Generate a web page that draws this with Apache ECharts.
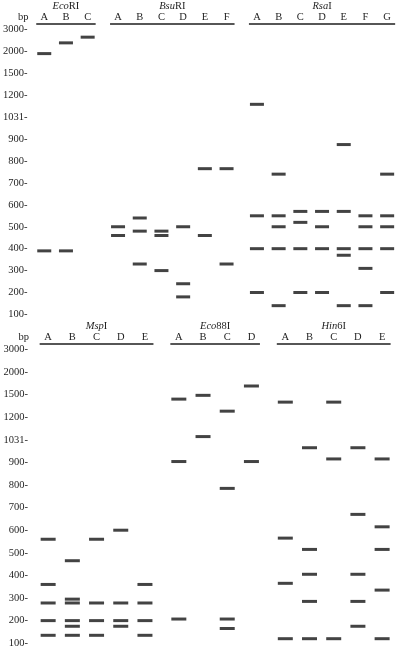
<!DOCTYPE html>
<html>
<head>
<meta charset="utf-8">
<script src="https://cdn.jsdelivr.net/npm/echarts@6/dist/echarts.min.js"></script>
<style>
html, body { margin: 0; padding: 0; background: #fff; }
#chart { width: 398px; height: 650px; }
</style>
</head>
<body>
<div id="chart"></div>
<script>
// size ladder (bp), evenly spaced on the gel
const ladder = [3000, 2000, 1500, 1200, 1031, 900, 800, 700, 600, 500, 400, 300, 200, 100];
const laneLetters = ['A', 'B', 'C', 'D', 'E', 'F', 'G'];

// top panel, band sizes per lane (bp)
const ecoRI = [[1950, 390], [2390, 390], [2650]];
const bsuRI = [[500, 460], [540, 480, 330], [480, 460, 300], [500, 240, 180], [765, 460], [765, 330]];
const rsaI = [[1130, 550, 400, 200], [740, 550, 500, 400, 140], [570, 520, 400, 200], [570, 500, 400, 200],
    [875, 570, 400, 370, 140], [550, 500, 400, 310, 140], [740, 550, 500, 400, 200]];
const topTitles = [['Eco', 'RI'], ['Bsu', 'RI'], ['Rsa', 'I']];

// bottom panel
const mspI = [[560, 360, 278, 200, 135], [465, 295, 278, 200, 175, 135], [560, 278, 200, 135],
    [600, 278, 200, 175], [360, 278, 200, 135]];
const eco88I = [[1440, 905, 207], [1490, 1055], [1280, 785, 207, 165], [1690, 905]];
const hin6I = [[1400, 565, 365, 120], [985, 515, 405, 285, 120], [1400, 920, 120],
    [985, 670, 405, 285, 175], [920, 615, 515, 335, 120]];
const bottomTitles = [['Msp', 'I'], ['Eco', '88I'], ['Hin', '6I']];

const GROUP_GAP = 1.4;
const FONT = '"Liberation Serif", "DejaVu Serif", serif';
const INK = '#1e1e1e';
const BAND = '#141414';

// bp -> position on the ladder (0 = 3000, 13 = 100)
function ladderPos(bp) {
    for (let i = 0; i < ladder.length - 1; i++) {
        if (bp <= ladder[i] && bp >= ladder[i + 1]) {
            return i + (ladder[i] - bp) / (ladder[i] - ladder[i + 1]);
        }
    }
    return bp > ladder[0] ? 0 : ladder.length - 1;
}

function buildPanel(groups) {
    let x = 0;
    const bands = [], heads = [];
    groups.forEach(lanes => {
        heads.push([x, x + lanes.length - 1, lanes.length]);
        lanes.forEach((sizes, i) => {
            sizes.forEach(bp => bands.push([x + i, ladderPos(bp)]));
        });
        x += lanes.length - 1 + GROUP_GAP;
    });
    return { bands, heads };
}

function headerRenderer(titles, bandW, xMin) {
    return function (params, api) {
        const x0 = api.value(0), x1 = api.value(1), n = api.value(2);
        const p0 = api.coord([x0, 0]), p1 = api.coord([x1, 0]);
        const y = p0[1];
        const txt = (text, px, py, align, rich) => ({
            type: 'text', x: px, y: py,
            style: { text: text, rich: rich, fill: INK, fontFamily: FONT, fontSize: 10.5,
                align: align || 'center', verticalAlign: 'middle' }
        });
        const children = [{
            type: 'line',
            shape: { x1: p0[0] - bandW / 2 - 1, y1: y - 5.5, x2: p1[0] + bandW / 2 + 1, y2: y - 5.5 },
            style: { stroke: INK, lineWidth: 1.5 }
        }];
        for (let i = 0; i < n; i++) {
            const p = api.coord([x0 + i, 0]);
            children.push(txt(laneLetters[i], p[0], y - 12));
        }
        const t = titles[params.dataIndex];
        children.push(txt('{i|' + t[0] + '}' + t[1], (p0[0] + p1[0]) / 2, y - 23, 'center', {
            i: { fontStyle: 'italic', fontFamily: FONT, fontSize: 10.5, fill: INK }
        }));
        if (params.dataIndex === 0) {
            const g = api.coord([xMin, 0]);
            children.push(txt('bp', g[0] - 1, y - 12, 'right'));
        }
        return { type: 'group', children: children };
    };
}

const topPanel = buildPanel([ecoRI, bsuRI, rsaI]);
const bottomPanel = buildPanel([mspI, eco88I, hin6I]);

const ladderTicks = ladder.map((_, i) => i);
function yAxisFor(gridIndex) {
    return {
        type: 'value', gridIndex: gridIndex, inverse: true, min: -1.3, max: 13.3,
        axisLine: { show: false }, axisTick: { show: false }, splitLine: { show: false },
        axisLabel: {
            customValues: ladderTicks, margin: 2, color: INK, fontFamily: FONT, fontSize: 10.5,
            formatter: v => ladder[Math.round(v)] + '-'
        }
    };
}

const topX = { min: -0.68, max: 16.3 };
const bottomX = { min: -0.75, max: 14.3 };

const option = {
    backgroundColor: '#fff',
    animation: false,
    grid: [
        { left: 27, top: 1, width: 22 * (topX.max - topX.min), height: 320 },
        { left: 30, top: 320, width: 24.2 * (bottomX.max - bottomX.min), height: 331 }
    ],
    xAxis: [
        { type: 'value', gridIndex: 0, min: topX.min, max: topX.max, show: false },
        { type: 'value', gridIndex: 1, min: bottomX.min, max: bottomX.max, show: false }
    ],
    yAxis: [yAxisFor(0), yAxisFor(1)],
    series: [
        {
            type: 'scatter', xAxisIndex: 0, yAxisIndex: 0, data: topPanel.bands,
            symbol: 'rect', symbolSize: [14, 3], itemStyle: { color: BAND }, silent: true
        },
        {
            type: 'scatter', xAxisIndex: 1, yAxisIndex: 1, data: bottomPanel.bands,
            symbol: 'rect', symbolSize: [15, 3], itemStyle: { color: BAND }, silent: true
        },
        {
            type: 'custom', xAxisIndex: 0, yAxisIndex: 0, data: topPanel.heads, clip: false, silent: true,
            encode: { x: [0, 1] },
            renderItem: headerRenderer(topTitles, 14, topX.min)
        },
        {
            type: 'custom', xAxisIndex: 1, yAxisIndex: 1, data: bottomPanel.heads, clip: false, silent: true,
            encode: { x: [0, 1] },
            renderItem: headerRenderer(bottomTitles, 15, bottomX.min)
        }
    ]
};

const chart = echarts.init(document.getElementById('chart'));
chart.setOption(option);
</script>
</body>
</html>
